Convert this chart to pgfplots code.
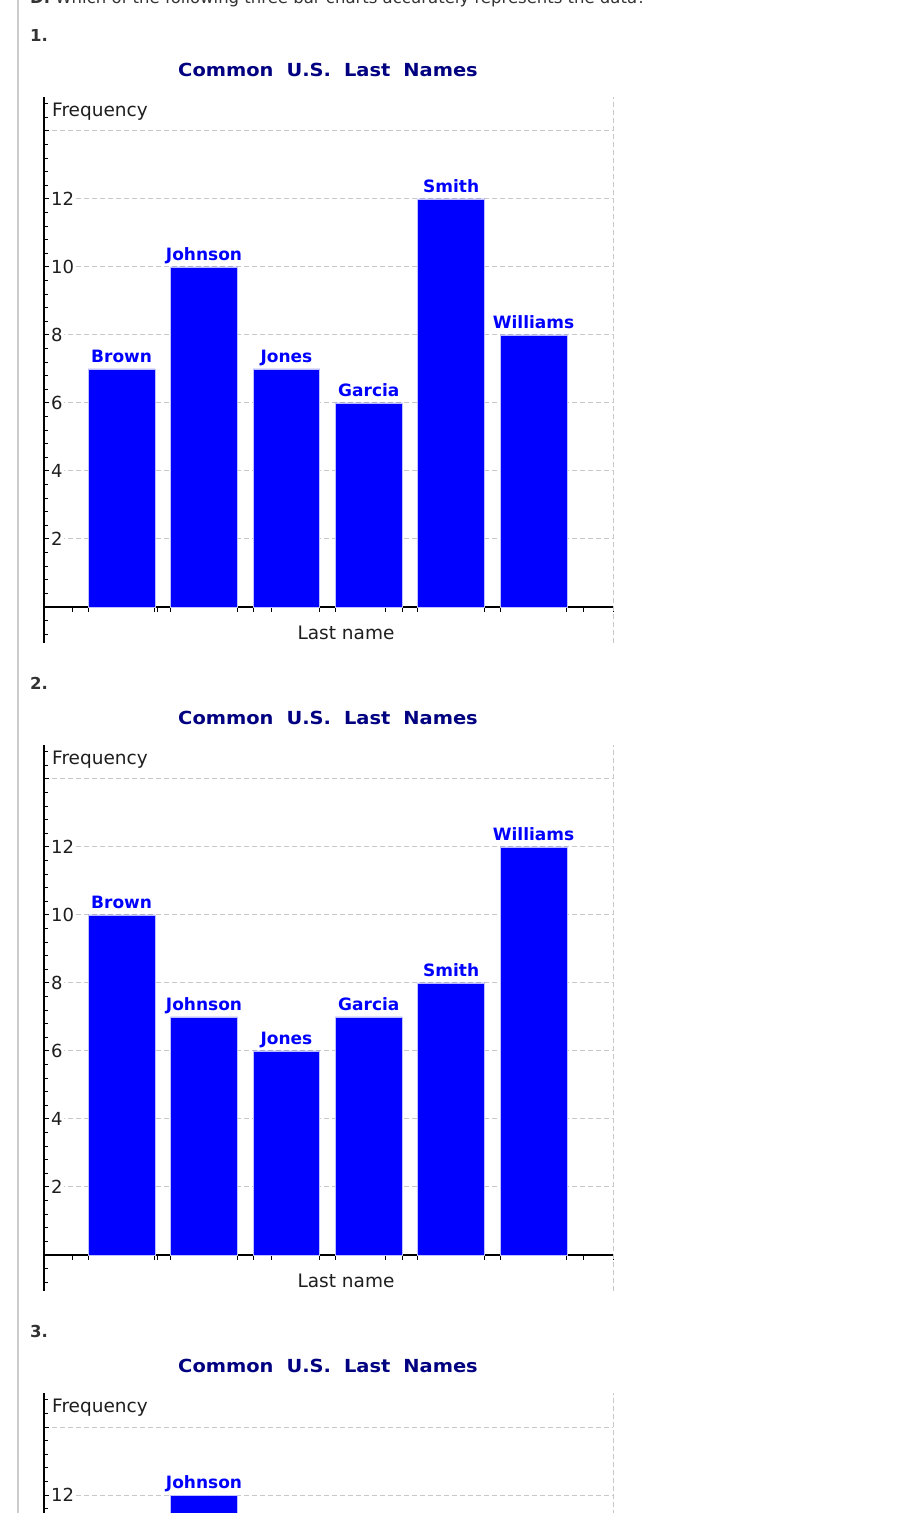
\documentclass[border=0pt]{standalone}
\usepackage{pgfplots}
\pgfplotsset{compat=1.18}
\usepackage{pgfplotstable}
\usepackage{fontspec}
\setmainfont{DejaVu Sans}
\definecolor{barblue}{RGB}{0,0,255}
\definecolor{navy}{RGB}{0,0,128}
\definecolor{gridgray}{RGB}{200,200,200}
\definecolor{txt}{RGB}{30,30,30}
\definecolor{qtxt}{RGB}{51,51,51}
\definecolor{leftline}{RGB}{204,204,204}

\pgfplotstableread{
x y name
1 7 Brown
2 10 Johnson
3 7 Jones
4 6 Garcia
5 12 Smith
6 8 Williams
}\dataA
\pgfplotstableread{
x y name
1 10 Brown
2 7 Johnson
3 6 Jones
4 7 Garcia
5 8 Smith
6 12 Williams
}\dataB
\pgfplotstableread{
x y name
1 8 Brown
2 12 Johnson
3 7 Jones
4 10 Garcia
5 6 Smith
6 7 Williams
}\dataC

\newcommand\chart[3]{%
  \node[anchor=base west, inner sep=0pt, text=qtxt, font=\fontsize{16.5}{18}\selectfont\bfseries] at (30pt,{#1pt+565.5pt}) {#2};
  \node[anchor=base, inner sep=0pt, text=navy, font=\fontsize{18}{20}\selectfont\bfseries] at (328pt,{#1pt+530pt}) {\scalebox{1.08}[1]{Common\hspace{12pt}U.S.\hspace{12pt}Last\hspace{12pt}Names}};
  \node[anchor=base west, inner sep=0pt, text=txt, font=\fontsize{18.5}{20}\selectfont] at (52pt,{#1pt+490pt}) {Frequency};
  \node[anchor=base, inner sep=0pt, text=txt, font=\fontsize{18.5}{20}\selectfont] at (346pt,{#1pt-33pt}) {Last name};
  \begin{axis}[
    at={(44pt,{#1pt-36pt})}, anchor=south west,
    scale only axis, width=569pt, height=546pt,
    xmin=0.058, xmax=6.964, ymin=-1.0588, ymax=15,
    axis x line=middle, axis y line=left,
    x axis line style={-, black, line width=1.4pt},
    y axis line style={-, black, line width=1.2pt},
    xtick={0.407,0.595,1.405,1.44,1.595,2.405,2.595,2.825,3.405,3.595,4.197,4.405,4.595,5.405,5.595,6.405,6.6,6.964},
    xticklabels={},
    xtick align=outside,
    ytick={2,4,...,14},
    yticklabels={2,4,6,8,10,12,{}},
    ytick align=inside,
    minor ytick={-0.8,-0.4,0.4,0.8,1.2,1.6,2.4,2.8,3.2,3.6,4.4,4.8,5.2,5.6,6.4,6.8,7.2,7.6,8.4,8.8,9.2,9.6,10.4,10.8,11.2,11.6,12.4,12.8,13.2,13.6,14.4,14.8},
    major tick length=5pt, minor tick length=4pt,
    tick style={black, line width=1pt},
    ymajorgrids=true,
    grid style={gridgray, dash pattern=on 5pt off 3pt, line width=1pt},
    yticklabel style={anchor=west, xshift=6pt, font=\fontsize{18}{20}\selectfont, text=txt, fill=white, inner sep=1pt},
    clip=false,
  ]
    \draw[gridgray, dash pattern=on 5pt off 3pt, line width=1pt] (rel axis cs:1,0) -- (rel axis cs:1,1);
    \addplot[ybar, bar width=0.81, fill=barblue, draw=blue!25!white, line width=0.7pt,
      point meta=explicit symbolic, nodes near coords,
      every node near coord/.append style={font=\fontsize{17}{19}\selectfont\bfseries, text=barblue, text depth=0pt, inner sep=0pt, anchor=south, yshift=6pt}]
      table[x=x, y=y, meta=name] {#3};
  \end{axis}
}

\begin{document}
\begin{tikzpicture}[x=1pt,y=1pt]
  \path[use as bounding box] (0,0) rectangle (921pt,1513pt);
  \clip (0,0) rectangle (921pt,1513pt);
  \fill[white] (0,0) rectangle (921pt,1513pt);
  \fill[leftline] (17pt,0) rectangle (19pt,1513pt);
  \node[anchor=base west, inner sep=0pt, text=qtxt, font=\fontsize{16.5}{18}\selectfont] at (30pt,1509.5pt) {\textbf{D.} Which of the following three bar charts accurately represents the data?};
  \chart{906}{1.}{\dataA}
  \chart{258}{2.}{\dataB}
  \chart{-390}{3.}{\dataC}
\end{tikzpicture}
\end{document}
